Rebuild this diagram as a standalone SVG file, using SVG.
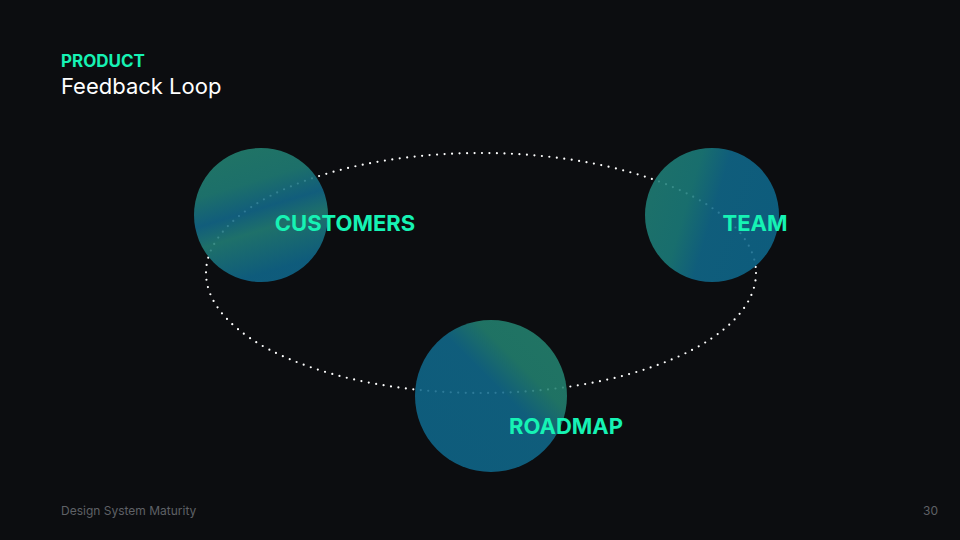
<svg xmlns="http://www.w3.org/2000/svg" width="960" height="540" viewBox="0 0 960 540">
<style>
.lbl{font-family:Inter,"Liberation Sans",sans-serif;font-weight:700;font-size:22px;fill:#16f2b4}
.foot{font-family:Inter,"Liberation Sans",sans-serif;font-size:12px;fill:#5f6166}
.dots{fill:none;stroke:#ffffff;stroke-width:2.2;stroke-linecap:round;stroke-dasharray:0 7.5}
</style>
<defs>
<linearGradient id="g1" x1="0" y1="0" x2="0.3" y2="1">
<stop offset="0" stop-color="#24836f"/><stop offset="0.35" stop-color="#1f7d76"/><stop offset="0.55" stop-color="#12688a"/><stop offset="0.7" stop-color="#217e76"/><stop offset="1" stop-color="#0f668a"/>
</linearGradient>
<linearGradient id="g2" x1="0" y1="0" x2="1" y2="0.3">
<stop offset="0" stop-color="#217f74"/><stop offset="0.4" stop-color="#1a7b7a"/><stop offset="0.6" stop-color="#10688a"/><stop offset="1" stop-color="#0e678b"/>
</linearGradient>
<linearGradient id="g3" x1="0" y1="1" x2="1" y2="0">
<stop offset="0" stop-color="#0e668a"/><stop offset="0.55" stop-color="#10688a"/><stop offset="0.7" stop-color="#22806f"/><stop offset="1" stop-color="#24836f"/>
</linearGradient>
</defs>
<rect width="960" height="540" fill="#0c0d10"/>
<text x="61" y="67" font-family="Inter,'Liberation Sans',sans-serif" font-weight="700" font-size="17" fill="#16f2b4">PRODUCT</text>
<text x="61" y="94" font-family="Inter,'Liberation Sans',sans-serif" font-size="22" fill="#ffffff">Feedback Loop</text>
<g id="connectors">
<ellipse class="dots" cx="481" cy="273" rx="275" ry="120"/>
</g>
<g id="customers">
<circle cx="261" cy="215" r="67" fill="url(#g1)" opacity="0.88"/>
<text class="lbl" x="345" y="231" text-anchor="middle">CUSTOMERS</text>
</g>
<g id="team">
<circle cx="712" cy="215" r="67" fill="url(#g2)" opacity="0.88"/>
<text class="lbl" x="755" y="231" text-anchor="middle">TEAM</text>
</g>
<g id="roadmap">
<circle cx="491" cy="396" r="76" fill="url(#g3)" opacity="0.88"/>
<text class="lbl" x="566" y="434" text-anchor="middle">ROADMAP</text>
</g>
<text class="foot" x="61" y="515">Design System Maturity</text>
<text class="foot" x="938" y="515" text-anchor="end">30</text>
</svg>
